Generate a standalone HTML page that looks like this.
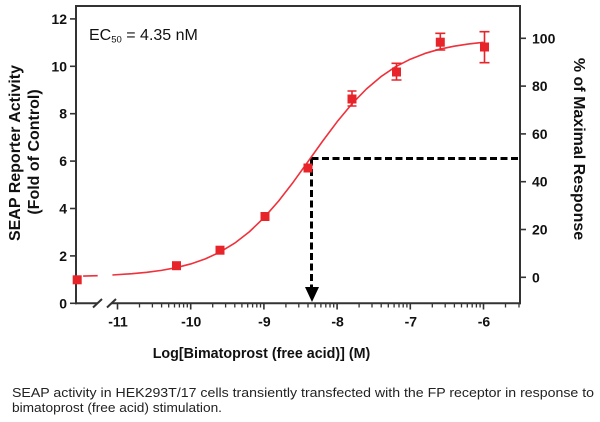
<!DOCTYPE html>
<html>
<head>
<meta charset="utf-8">
<style>
html,body{margin:0;padding:0;background:#fff;}
svg{display:block;}
text{font-family:"Liberation Sans",Arial,sans-serif;}
</style>
</head>
<body>
<svg width="600" height="422" viewBox="0 0 600 422" xmlns="http://www.w3.org/2000/svg">
<rect width="600" height="422" fill="#fff"/>

<!-- frame -->
<g stroke="#333" stroke-width="2" fill="none">
  <line x1="76" y1="6" x2="520" y2="6"/>
  <line x1="76" y1="5" x2="76" y2="304.3"/>
  <line x1="520" y1="5" x2="520" y2="304.3"/>
  <line x1="75" y1="303.3" x2="97.5" y2="303.3"/>
  <line x1="111.5" y1="303.3" x2="521" y2="303.3"/>
  <line x1="93" y1="307.5" x2="102" y2="299"/>
  <line x1="107" y1="307.5" x2="116" y2="299"/>
</g>

<!-- left ticks -->
<g stroke="#333" stroke-width="1.6">
  <line x1="70" y1="303.3" x2="76" y2="303.3"/>
  <line x1="70" y1="255.9" x2="76" y2="255.9"/>
  <line x1="70" y1="208.5" x2="76" y2="208.5"/>
  <line x1="70" y1="161.1" x2="76" y2="161.1"/>
  <line x1="70" y1="113.7" x2="76" y2="113.7"/>
  <line x1="70" y1="66.3" x2="76" y2="66.3"/>
  <line x1="70" y1="18.9" x2="76" y2="18.9"/>
</g>
<!-- right ticks -->
<g stroke="#333" stroke-width="1.6">
  <line x1="520" y1="277.3" x2="526" y2="277.3"/>
  <line x1="520" y1="229.5" x2="526" y2="229.5"/>
  <line x1="520" y1="181.7" x2="526" y2="181.7"/>
  <line x1="520" y1="133.9" x2="526" y2="133.9"/>
  <line x1="520" y1="86.1" x2="526" y2="86.1"/>
  <line x1="520" y1="38.3" x2="526" y2="38.3"/>
</g>
<!-- x major ticks -->
<g stroke="#333" stroke-width="1.6">
  <line x1="117.5" y1="303" x2="117.5" y2="309.5"/>
  <line x1="190.7" y1="303" x2="190.7" y2="309.5"/>
  <line x1="263.9" y1="303" x2="263.9" y2="309.5"/>
  <line x1="337.1" y1="303" x2="337.1" y2="309.5"/>
  <line x1="410.3" y1="303" x2="410.3" y2="309.5"/>
  <line x1="483.5" y1="303" x2="483.5" y2="309.5"/>
</g>
<!-- x minor ticks -->
<path stroke="#333" stroke-width="1.3" fill="none" d="
M139.5 303V307.5 M152.4 303V307.5 M161.6 303V307.5 M168.7 303V307.5 M174.5 303V307.5 M179.4 303V307.5 M183.6 303V307.5 M187.3 303V307.5
M212.7 303V307.5 M225.6 303V307.5 M234.8 303V307.5 M241.9 303V307.5 M247.7 303V307.5 M252.6 303V307.5 M256.8 303V307.5 M260.5 303V307.5
M285.9 303V307.5 M298.8 303V307.5 M308.0 303V307.5 M315.1 303V307.5 M320.9 303V307.5 M325.8 303V307.5 M330.0 303V307.5 M333.7 303V307.5
M359.1 303V307.5 M372.0 303V307.5 M381.2 303V307.5 M388.3 303V307.5 M394.1 303V307.5 M399.0 303V307.5 M403.2 303V307.5 M406.9 303V307.5
M432.3 303V307.5 M445.2 303V307.5 M454.4 303V307.5 M461.5 303V307.5 M467.3 303V307.5 M472.2 303V307.5 M476.4 303V307.5 M480.1 303V307.5
M505.5 303V307.5 M519 303V307.5"/>

<!-- left tick labels -->
<g font-size="14" font-weight="bold" fill="#111" text-anchor="end">
  <text x="67" y="308.3">0</text>
  <text x="67" y="260.9">2</text>
  <text x="67" y="213.5">4</text>
  <text x="67" y="166.1">6</text>
  <text x="67" y="118.7">8</text>
  <text x="67" y="71.3">10</text>
  <text x="67" y="23.9">12</text>
</g>
<!-- right tick labels -->
<g font-size="14" font-weight="bold" fill="#111" text-anchor="start">
  <text x="532" y="282.3">0</text>
  <text x="532" y="234.5">20</text>
  <text x="532" y="186.7">40</text>
  <text x="532" y="138.9">60</text>
  <text x="532" y="91.1">80</text>
  <text x="532" y="43.3">100</text>
</g>
<!-- x tick labels -->
<g font-size="14" font-weight="bold" fill="#111" text-anchor="middle">
  <text x="118" y="326.7">-11</text>
  <text x="191.2" y="326.7">-10</text>
  <text x="264.4" y="326.7">-9</text>
  <text x="337.6" y="326.7">-8</text>
  <text x="410.8" y="326.7">-7</text>
  <text x="484" y="326.7">-6</text>
</g>

<!-- axis titles -->
<text transform="translate(20,153) rotate(-90)" text-anchor="middle" font-size="16" font-weight="bold" fill="#111">SEAP Reporter Activity</text>
<text transform="translate(39,152) rotate(-90)" text-anchor="middle" font-size="16" font-weight="bold" fill="#111">(Fold of Control)</text>
<text transform="translate(574,149) rotate(90)" text-anchor="middle" font-size="16" font-weight="bold" fill="#111">% of Maximal Response</text>
<text x="261.5" y="358" text-anchor="middle" font-size="14.3" font-weight="bold" fill="#111">Log[Bimatoprost (free acid)] (M)</text>

<!-- EC50 -->
<text x="89" y="40" font-size="16" fill="#111">EC<tspan font-size="9.5" dy="2.5">50</tspan><tspan dy="-2.5"> = 4.35 nM</tspan></text>

<!-- dashed guide lines -->
<g stroke="#000" stroke-width="3" fill="none" stroke-dasharray="7 3.5">
  <line x1="311.5" y1="158.5" x2="520" y2="158.5"/>
  <line x1="311.5" y1="158.5" x2="311.5" y2="288"/>
</g>
<polygon points="305,287 319,287 312,302" fill="#000"/>

<!-- fit curve -->
<g stroke="#f0303a" stroke-width="1.6" fill="none" stroke-linejoin="round">
  <polyline points="83.1,276.1 97.7,275.7"/>
  <polyline points="112.4,275.0 132.1,273.7 146.8,272.35 161.4,270.38 176.06,267.68 190.7,263.96 205.34,258.88 219.98,252.1 234.6,243.2 249.26,231.87 263.9,217.8 278.54,201.1 293.18,182.2 307.82,161.9 322.46,141.4 337.1,121.8 351.74,104.1 366.38,89.0 381.02,76.6 395.66,66.7 410.3,59.2 424.94,53.45 439.58,49.2 454.22,46.2 468.86,43.9 483.5,42.3"/>
</g>

<!-- error bars -->
<g stroke="#e8242b" stroke-width="1.6" fill="none">
  <path d="M352 91V106 M347.5 91H356.5 M347.5 106H356.5"/>
  <path d="M396.5 63.3V80 M391.5 63.3H401.5 M391.5 80H401.5"/>
  <path d="M440.3 33.3V50 M435.3 33.3H445.3 M435.3 50H445.3"/>
  <path d="M484.5 31.7V62.7 M479.5 31.7H489.5 M479.5 62.7H489.5"/>
</g>

<!-- markers -->
<g fill="#e8242b">
  <rect x="72.7" y="275.3" width="9" height="9"/>
  <rect x="172" y="261.2" width="9" height="9"/>
  <rect x="215.5" y="245.7" width="9" height="9"/>
  <rect x="260.5" y="212" width="9" height="9"/>
  <rect x="303.5" y="163.5" width="9" height="9"/>
  <rect x="347.5" y="94.5" width="9" height="9"/>
  <rect x="392" y="67.5" width="9" height="9"/>
  <rect x="435.8" y="37.7" width="9" height="9"/>
  <rect x="480" y="42.5" width="9" height="9"/>
</g>

<!-- caption -->
<g font-size="13" fill="#222">
  <text x="12" y="397" textLength="582" lengthAdjust="spacingAndGlyphs">SEAP activity in HEK293T/17 cells transiently transfected with the FP receptor in response to</text>
  <text x="12" y="412" textLength="210" lengthAdjust="spacingAndGlyphs">bimatoprost (free acid) stimulation.</text>
</g>
</svg>
</body>
</html>
